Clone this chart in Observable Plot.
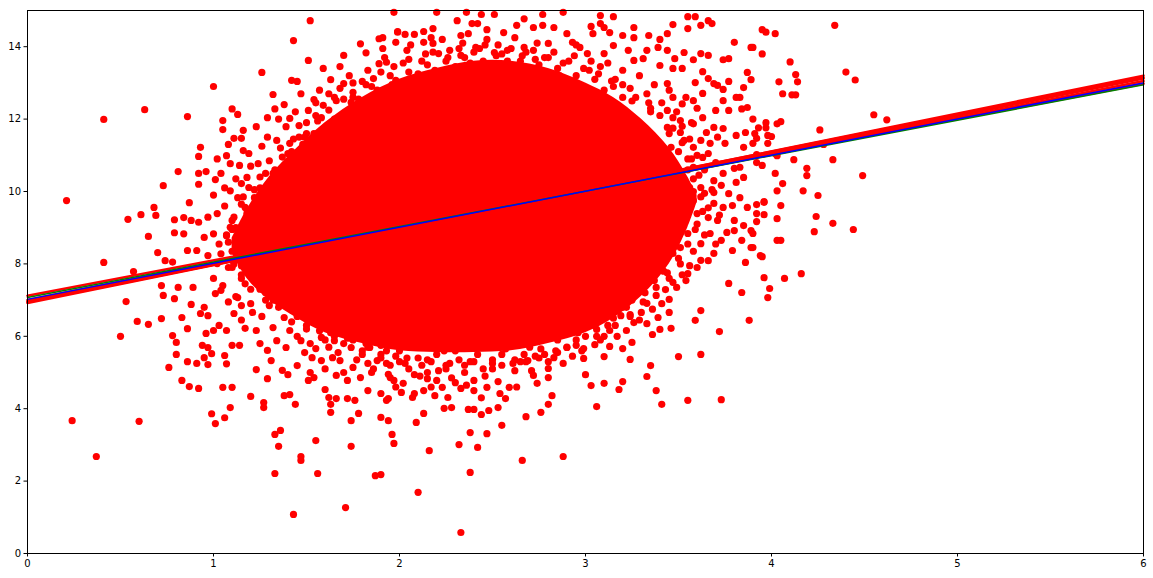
<!DOCTYPE html>
<html><head><meta charset="utf-8">
<script src="https://cdn.jsdelivr.net/npm/d3@7"></script>
<script src="https://cdn.jsdelivr.net/npm/@observablehq/plot@0.6"></script>
<style>body{margin:0;background:#fff}</style>
</head><body><div id="chart"></div>
<script>
const xTicks = [0,1,2,3,4,5,6];
const yTicks = [0,2,4,6,8,10,12,14];

// dense core of the cloud, read as lower/upper bounds of the solid red region
const coreX    = [1.10, 1.18, 1.30, 1.45, 1.60, 1.80, 2.00, 2.20, 2.40, 2.60, 2.80, 3.00, 3.15, 3.30, 3.45, 3.55, 3.60];
const coreLow  = [8.3,  7.6,  7.0,  6.5,  6.1,  5.8,  5.6,  5.55, 5.55, 5.6,  5.8,  6.1,  6.5,  7.1,  8.0,  9.0,  9.7];
const coreHigh = [8.7,  9.5,  10.4, 11.2, 11.9, 12.6, 13.1, 13.4, 13.6, 13.6, 13.4, 13.0, 12.6, 12.0, 11.2, 10.4, 9.9];

// individual points
const scatterPoints = [
[0.21,9.75],[0.41,11.99],[0.63,12.26],[0.41,8.04],[0.54,9.23],[0.61,9.36],[0.65,8.76],[0.68,9.56],[0.69,9.34],[0.73,10.16],
[0.70,8.31],[0.57,7.79],[0.86,12.07],[1.0,12.9],[0.81,10.55],[0.93,11.22],[0.92,10.97],[0.87,9.69],[0.79,8.86],[0.79,9.22],
[0.84,9.28],[0.84,8.83],[0.74,8.09],[0.78,8.05],[0.86,8.37],[0.91,8.37],[0.92,10.5],[0.92,10.2],[0.96,10.55],[0.88,9.2],
[0.92,9.15],[0.95,8.73],[0.97,8.23],[0.97,9.29],[1.01,10.33],[1.04,10.5],[1.05,11.96],[1.05,11.71],[1.1,12.28],[1.13,12.13],
[1.11,11.47],[1.16,11.69],[1.15,11.47],[1.16,11.13],[1.26,13.29],[1.32,12.68],[1.29,12.04],[1.23,11.79],[1.33,12.28],[1.38,12.4],
[1.42,13.07],[1.45,13.04],[1.43,14.17],[1.52,14.72],[1.51,13.62],[1.54,12.54],[1.59,13.4],[1.63,13.09],[1.68,13.45],[1.7,13.76],
[1.79,14.08],[1.82,13.83],[1.7,12.98],[1.75,12.74],[1.8,13.04],[1.97,14.95],[1.89,14.22],[1.91,13.95],[1.99,14.4],[1.89,13.53],
[1.93,13.57],[1.86,13.12],[1.98,13.07],[1.07,10.99],[1.09,10.77],[1.14,10.72],[1.15,10.22],[1.24,10.77],[1.29,11.5],[1.34,11.41],
[1.39,11.79],[1.41,12.02],[1.46,11.82],[1.41,11.33],[1.48,11.3],[1.49,11.5],[1.51,12.24],[1.58,12.04],[1.59,12.38],[1.54,11.6],
[1.6,11.22],[1.65,11.96],[1.66,12.51],[1.74,12.46],[1.4,11.05],[1.18,10.39],[1.19,10.11],[1.22,9.83],[1.13,9.83],[1.09,10.02],
[1.17,9.56],[1.11,9.29],[1.09,9.01],[1.02,9.39],[1.0,8.83],[1.07,8.78],[1.04,8.28],[1.11,8.0],[1.18,8.65],[1.24,8.92],
[1.27,9.47],[1.29,10.11],[1.32,10.5],[1.02,8.01],
[0.24,3.67],[0.37,2.68],[0.59,6.41],[0.5,6.0],[0.53,6.96],[0.6,3.65],[0.65,6.33],[0.72,6.49],[0.72,7.4],[0.73,7.13],
[0.76,5.14],[0.78,6.02],[0.8,5.83],[0.8,5.5],[0.79,7.04],[0.81,7.35],[0.83,6.52],[0.83,4.78],[0.86,5.3],[0.86,6.21],
[0.87,4.61],[0.88,6.88],[0.89,7.35],[0.91,5.25],[0.92,4.56],[0.93,6.63],[0.94,5.75],[0.95,5.41],[0.95,6.8],[0.96,6.08],
[0.97,5.69],[0.97,5.22],[0.97,6.57],[0.99,5.52],[0.99,3.86],[1.0,6.16],[1.01,7.18],[1.01,3.59],[1.03,6.3],[1.04,7.27],
[1.05,4.59],[1.06,5.47],[1.06,3.75],[1.07,5.24],[1.07,6.16],[1.09,4.03],[1.1,5.75],[1.1,4.59],[1.11,6.63],[1.13,7.07],
[1.14,5.75],[1.15,6.85],[1.17,6.22],[1.2,4.34],[1.21,6.66],[1.23,5.08],[1.23,6.16],[1.25,5.8],[1.27,4.17],[1.27,4.03],
[1.29,4.83],[1.29,5.61],[1.3,6.85],[1.31,5.33],[1.33,3.29],[1.33,2.21],[1.35,2.96],[1.36,3.4],[1.37,5.06],[1.38,4.36],
[1.4,4.94],[1.41,4.39],[1.43,1.08],[1.44,4.12],[1.47,2.68],[1.47,2.57],[1.51,4.78],[1.54,4.86],[1.55,3.12],[1.56,2.21],
[1.6,4.53],[1.62,4.31],[1.63,4.12],[1.63,3.9],[1.66,4.92],[1.66,4.28],[1.71,1.27],[1.72,4.78],[1.72,4.28],[1.74,3.67],
[1.74,2.96],[1.76,4.23],[1.78,3.87],[1.79,4.86],[1.83,4.5],[1.87,2.15],[1.9,2.18],[1.9,3.76],[1.94,3.67],[1.96,3.29],
[1.97,3.04],[1.9,4.42],[1.93,4.23],[1.97,4.78],[1.45,5.19],[1.49,5.55],[1.53,5.41],[1.55,5.66],[1.58,5.33],[1.64,5.41],
[1.68,5.33],[1.39,5.69],[1.34,5.88],[1.41,6.16],[1.32,6.24],[1.38,6.52],[1.47,5.88],[1.58,5.97],[1.65,5.88],[1.75,5.14],
[1.83,5.25],[1.88,5.33],[1.74,5.69],[1.84,5.69],[1.93,5.25],
[2.1,1.69],[2.33,0.58],[2.38,2.24],[2.16,2.84],[2.32,3.01],[2.42,2.93],[2.38,3.34],[2.47,3.31],[2.55,3.54],[2.66,2.57],
[2.88,2.68],[2.09,3.62],[2.13,3.87],[2.24,4.01],[2.28,4.03],[2.37,3.98],[2.4,3.98],[2.44,3.84],[2.48,3.95],[2.53,4.03],
[2.68,3.78],[2.76,3.9],[2.8,4.12],[2.82,4.36],[3.06,4.06],[3.03,4.64],[3.1,4.7],[3.18,4.53],[3.2,4.75],[3.33,4.89],
[3.38,4.5],[3.41,4.12],[3.55,4.23],[3.73,4.25],[3.35,5.19],[3.5,5.44],[3.62,5.5],[3.59,6.44],[3.62,6.71],[3.72,6.13],
[3.88,6.44],[3.77,7.46],[3.84,7.21],[3.98,7.07],[3.99,7.32],[3.46,6.22],[3.4,6.19],[3.36,6.05],[3.25,5.83],[3.2,5.66],
[3.24,5.36],[3.1,5.44],[3.13,5.72],[3.05,5.77],[2.99,5.39],[3.0,4.94],[2.99,5.66],[3.45,6.66],[3.39,6.52],[3.43,7.29],
[3.45,7.02],[3.54,7.54],[3.47,7.49],[3.33,6.35],[3.3,6.66],[3.26,6.38],[3.22,6.16],[3.13,6.16],[3.06,6.19],[3.1,6.63],
[3.04,6.8],[3.19,6.57],[3.22,7.13],[3.33,6.91],[3.38,7.13],[3.37,7.54],
[2.8,4.86],[2.72,4.92],[2.74,4.7],[2.69,5.33],[2.61,5.25],[2.59,4.59],[2.54,4.42],[2.57,4.28],[2.47,4.59],[2.4,4.78],
[2.33,4.56],[2.3,4.72],[2.26,4.31],[2.23,4.59],[2.19,4.36],[2.13,4.5],[2.08,4.42],[2.07,4.31],[1.94,4.28],[2.01,4.45],
[1.95,4.86],[2.02,4.7],[2.08,4.94],[2.15,4.83],[2.2,4.78],[2.4,4.5],[2.83,5.41],[2.9,5.69],[2.88,5.25],[2.8,5.11],
[4.34,14.59],[3.95,14.47],[3.97,14.4],[4.02,14.36],[3.95,13.8],[3.9,13.98],[4.1,13.58],[4.4,13.3],[4.45,13.08],[4.13,13.23],
[4.14,13.03],[4.04,13.03],[4.06,12.7],[4.11,12.67],[4.13,12.67],[4.55,12.12],[4.62,11.98],[4.26,11.7],[3.9,12.0],[3.93,11.76],
[3.97,11.9],[3.97,11.76],[4.03,11.87],[4.05,11.93],[3.92,11.47],[4.0,11.52],[3.98,11.33],[3.91,11.6],[3.92,11.02],[4.02,11.05],
[4.28,11.3],[3.95,10.72],[3.92,10.8],[4.12,10.88],[4.33,10.88],[4.19,10.64],[4.19,10.44],[4.49,10.44],[4.02,10.5],[4.06,10.22],
[4.03,10.02],[4.17,10.02],[4.25,9.89],[3.92,9.64],[3.96,9.72],[4.05,9.61],[3.96,9.36],[3.92,9.17],[4.03,9.25],[4.24,9.31],
[4.23,8.89],[4.33,9.12],[4.44,8.95],[3.9,8.84],[4.05,8.65],[3.9,8.45],[3.94,8.23],[3.95,8.2],[3.96,7.62],[4.07,7.6],[4.16,7.73],
[2.2,14.95],[2.36,14.95],[2.44,14.89],[2.51,14.89],[2.77,14.89],[2.88,14.95],[3.08,14.86],[3.15,14.83],[3.55,14.83],[3.59,14.83],
[2.31,14.72],[2.39,14.64],[2.42,14.64],[2.67,14.77],[2.77,14.59],[3.08,14.64],[3.03,14.56],[3.1,14.53],[3.26,14.53],[3.47,14.61],
[3.55,14.5],[3.62,14.59],[3.66,14.72],[3.68,14.64],[1.99,14.42],[2.03,14.34],[2.08,14.34],[2.13,14.42],[2.18,14.5],[2.17,14.25],
[2.33,14.31],[2.37,14.36],[2.47,14.47],[2.56,14.39],[2.63,14.59],[2.72,14.53],[2.83,14.53],[2.9,14.36],[2.93,14.12],[3.04,14.36],
[3.13,14.39],[3.2,14.31],[3.26,14.25],[3.34,14.31],[3.44,14.36],[3.4,14.2],[3.8,14.12],[3.89,13.98],[1.91,14.25],[1.98,14.12],
[2.04,13.9],[2.13,14.12],[2.18,14.09],[2.21,13.81],[2.33,13.76],[2.41,13.98],[2.51,13.84],[2.58,13.9],[2.67,13.98],[2.72,13.9],
[2.8,14.09],[2.97,13.98],[3.01,13.81],[3.1,13.81],[3.15,14.03],[3.23,13.9],[3.33,13.9],[3.39,13.98],[3.44,13.9],[3.53,13.84],
[3.62,13.81],[3.66,13.76],[3.58,13.64],[3.74,13.64],[3.77,13.67],[3.48,13.67],[3.4,13.48],[3.31,13.67],[3.26,13.62],[3.87,13.29],
[3.63,13.31],[3.66,13.12],[3.77,13.04],[3.89,13.09],[3.85,12.87],[3.71,12.93],[3.81,12.6],[3.83,12.6],[3.59,13.01],[3.52,13.4],
[3.47,13.4],[3.63,12.71],[3.74,12.82],[3.74,12.51],[3.7,12.24],[3.77,12.24],[3.84,12.28],[3.87,12.32],[3.86,11.63],[3.81,11.55],
[3.74,11.74],[3.71,11.5],[3.69,11.77],[3.65,11.63],[3.62,11.41],[3.75,11.33],[3.85,11.22],[3.9,11.33],[3.98,11.55],[4.03,10.99],
[4.03,8.65],[3.96,9.7],[3.92,9.39],[3.87,9.56],[3.83,9.83],[3.79,9.61],[3.77,9.94],[3.81,10.25],[3.85,10.39],[3.83,10.67],
[3.8,10.64],[3.74,10.5],[3.69,10.3],[3.73,10.17],[3.69,9.97],[3.74,9.56],[3.8,9.2],[3.85,9.06],[3.89,8.92],[3.8,8.92],
[3.76,8.87],[3.73,8.65],[3.79,8.37],[3.84,8.65],[3.86,8.04],[3.89,8.45],[3.69,8.29],[3.66,8.09],[3.62,8.56],[3.67,8.84],
[3.66,9.28],[3.6,9.39],[3.69,9.67],[3.58,9.75],[3.62,10.11],[3.56,10.11],[3.71,9.2],[3.55,7.73],[3.6,7.9],[3.51,8.0],
[3.47,8.29],[3.51,8.45],[3.55,8.84],[3.51,9.12],[3.47,9.29],[3.51,9.56],[3.46,9.83],[3.47,10.3],[3.51,10.5],[3.58,10.67],
[3.63,10.94],[3.66,11.05],[3.67,11.33],[3.58,11.22],[3.53,11.41],[3.51,11.63],[3.58,11.87],[3.63,12.04],[3.58,12.51],[3.52,12.42],
[3.47,12.6],[3.69,12.98],[3.44,12.98],[3.44,12.24],[3.47,12.04],[3.44,11.77],[3.51,11.96],[3.44,11.05],[3.44,10.67],[3.46,11.22],
[1.15,7.6],[1.2,8.1],[1.25,7.3],[1.3,7.8],[1.35,8.4],[1.28,8.7],[1.22,9.1],[1.18,8.4],[1.1,7.9],[1.05,7.4],
[1.12,7.1],[1.32,7.0],[1.38,7.5],[1.4,9.2],[1.35,9.6],[1.3,10.0],[1.42,10.3],[1.45,6.8],[1.5,6.3],[1.55,6.7],[1.48,7.3],
[1.85,5.9],[1.9,5.5],[1.95,5.2],[2.0,5.6],[2.05,5.1],[2.1,5.4],[2.15,5.0],[2.2,5.5],[2.25,5.2],[2.3,5.6],
[2.35,5.0],[2.4,5.3],[2.45,5.7],[2.5,5.1],[2.55,5.5],[2.6,5.8],[2.65,5.3],[2.7,5.7],[2.75,5.4],[2.85,5.9],
[2.9,6.2],[2.95,5.9],[3.05,6.3],[3.1,6.0],[3.15,6.5],[1.8,5.6],[1.75,5.9],[1.7,6.2],[1.65,6.0],
[3.3,7.5],[3.35,8.0],[3.4,8.5],[3.3,9.0],[3.4,9.5],[3.35,10.0],[3.3,10.8],[3.4,11.0],[3.3,11.5],[3.25,12.0],
[3.35,12.3],[3.2,12.6],[3.42,7.8],[3.38,9.2],[3.45,10.2],[3.28,8.3],[3.25,7.0],[3.2,6.8],[3.15,12.3],[3.1,12.8],
[1.5,11.9],[1.55,12.1],[1.65,12.0],[1.75,12.6],[1.85,12.9],[1.95,13.2],[2.05,13.3],[2.15,13.5],[2.25,13.6],[2.35,13.7],
[2.45,13.6],[2.55,13.8],[2.65,13.6],[2.75,13.5],[2.85,13.4],[2.95,13.2],[3.05,13.1],[3.15,12.9],[3.25,12.5],[3.35,12.2],
[3.45,11.6],[3.5,11.1],[3.55,10.6],[3.58,10.0],[3.55,9.4],[3.5,8.9],[3.45,8.5],[3.4,7.9],[3.32,7.2],[3.22,6.8],
[3.12,6.3],[3.0,6.0],[2.9,5.7],[2.78,5.5],[2.68,5.3],[2.55,5.2],[2.45,5.1],[2.35,5.2],[2.25,5.1],[2.12,5.2],
[2.0,5.3],[1.9,5.4],[1.8,5.5],[1.7,5.8],[1.6,5.9],[1.5,6.2],[1.42,6.4],[1.35,6.8],[1.28,7.0],[1.2,7.3],
[1.15,7.7],[1.1,8.1],[1.08,8.6],[1.12,9.0],[1.18,9.4],[1.25,10.1],[1.33,10.6],[1.42,11.1],
[1.62,12.7],[1.68,12.85],[1.73,13.2],[1.78,12.55],[1.83,13.35],[1.88,12.8],[1.92,13.7],[1.96,12.95],[2.02,13.55],[2.06,14.05],
[2.1,13.25],[2.14,13.8],[2.19,13.35],[2.23,14.2],[2.27,13.9],[2.3,13.45],[2.34,14.1],[2.38,13.55],[2.43,13.95],[2.47,14.2],
[2.5,13.5],[2.53,14.05],[2.58,13.6],[2.62,14.25],[2.66,13.75],[2.7,13.3],[2.74,14.1],[2.78,13.7],[2.83,13.85],[2.86,13.2],
[2.91,13.6],[2.95,14.05],[2.99,13.4],[3.03,13.6],[3.07,13.25],[3.12,13.55],[3.16,13.1],[3.2,13.35],[3.24,12.85],[3.29,13.2],
[3.33,12.7],[3.37,12.95],[3.41,12.45],[3.45,12.8],[3.49,12.2],[3.54,12.6],[3.57,11.9],[3.6,12.3],
[3.56,11.45],[3.6,11.0],[3.64,10.6],[3.58,10.35],[3.62,9.85],[3.66,9.55],[3.6,9.1],[3.64,8.8],[3.58,8.35],[3.62,8.1],
[3.56,7.95],[3.52,7.7],[3.68,10.05],[3.7,10.8],[3.72,9.35],[3.7,8.55],[3.53,9.7],[3.55,10.9],[3.52,11.8],[3.49,7.35],
[3.45,7.6],[3.41,6.9],[3.36,6.75],[3.29,6.45],[3.24,6.55],[3.17,6.0],[3.08,5.9],[2.98,5.6],
[1.45,6.0],[1.52,5.8],[1.57,6.15],[1.62,5.7],[1.67,5.55],[1.72,5.95],[1.77,5.35],[1.82,5.8],[1.86,5.1],[1.9,5.75],
[1.94,4.95],[1.98,5.45],[2.03,5.25],[2.06,5.75],[2.11,4.9],[2.17,5.3],[2.21,5.05],[2.24,5.6],[2.28,4.85],[2.32,5.35],
[2.36,4.65],[2.42,5.5],[2.46,4.9],[2.5,5.35],[2.53,4.75],[2.57,5.65],[2.62,5.05],[2.67,5.5],[2.71,5.05],[2.76,5.65],
[2.8,5.3],[2.85,5.55],[2.93,5.45],[2.96,6.1],[2.63,4.6],[2.44,4.3],[2.17,4.6],[1.98,4.6],[1.85,5.0],[1.7,5.0],[1.6,5.1],[1.52,5.0],
[1.0,7.6],[1.03,8.55],[1.06,9.6],[1.08,7.9],[1.1,8.95],[1.12,10.35],[1.14,8.25],[1.16,9.85],[1.17,7.45],[1.2,10.7],
[1.21,8.85],[1.23,7.75],[1.25,10.4],[1.27,9.05],[1.28,7.55],[1.3,10.85],[1.32,8.1],[1.33,9.3],[1.36,11.2],[1.37,7.2],
[1.39,6.95],[1.43,11.45],[1.45,11.0],[1.48,6.6],[1.5,11.6],[1.53,6.45],[1.56,11.95],[1.58,6.35],[1.62,12.25],[1.66,6.1],
[1.7,12.55],[1.72,6.05],[1.2,6.9],[1.26,6.55],[1.15,6.45],[1.08,6.95],[1.06,10.1],[1.0,9.9],[1.02,10.9],[1.08,11.3],
[1.19,11.05],[1.26,11.25],[1.35,12.0],[1.47,12.7],[1.57,12.8],[1.44,12.2],
[1.55,12.45],[1.65,12.6],[1.75,13.0],[1.82,12.95],[1.9,13.3],[1.97,13.45],[2.05,13.65],[2.12,13.6],[2.18,13.85],[2.26,13.7],
[2.32,13.95],[2.4,13.85],[2.46,14.05],[2.52,13.75],[2.6,13.95],[2.68,13.85],[2.73,13.65],[2.8,13.7],[2.88,13.55],[2.94,13.75],
[3.02,13.35],[3.08,13.45],[3.14,13.05],[3.2,12.95],[3.27,12.6],[3.34,12.45],[3.4,12.1],[3.47,11.75],[3.52,11.35],[3.57,10.9],
[3.61,10.45],[3.64,9.95],[3.63,9.45],[3.59,8.95],[3.55,8.55],[3.5,8.15],[3.44,7.75],[3.38,7.35],[3.31,6.95],[3.24,6.6],
[3.16,6.3],[3.06,6.0],[2.95,5.75],[2.84,5.6],[2.73,5.45],[2.62,5.35],[2.5,5.25],[2.38,5.3],[2.27,5.25],[2.15,5.35],
[2.04,5.4],[1.93,5.6],[1.83,5.7],[1.73,5.95],[1.63,6.1],[1.54,6.4],[1.45,6.55],[1.37,6.9],[1.28,7.2],[1.21,7.6],
[1.15,7.95],[1.1,8.35],[1.07,8.8],[1.1,9.2],[1.15,9.65],[1.22,10.05],[1.28,10.5],[1.37,10.95],[1.46,11.5]
];

// fitted lines: value at x = 0 and at x = 6
const lineX = [0, 6];
const redStarts   = [7.12, 6.92, 6.95, 7.00, 6.97];
const redEnds     = [12.98, 13.20, 13.12, 13.15, 13.05];
const greenLine   = [7.07, 12.95];
const blueLine    = [7.02, 13.00];

const pts = scatterPoints.map(([x, y]) => ({x, y}));
const core = coreX.map((x, i) => ({x, lo: coreLow[i], hi: coreHigh[i]}));
const redLines = redStarts.flatMap((s, i) => [{x: lineX[0], y: s, k: i}, {x: lineX[1], y: redEnds[i], k: i}]);
const green = lineX.map((x, i) => ({x, y: greenLine[i]}));
const blue = lineX.map((x, i) => ({x, y: blueLine[i]}));

const chart = Plot.plot({
  width: 1153, height: 578,
  marginLeft: 27, marginRight: 10, marginTop: 10, marginBottom: 25,
  style: {fontFamily: "DejaVu Sans", fontSize: "10px", color: "black", background: "white"},
  x: {domain: [0, 6]},
  y: {domain: [0, 15]},
  marks: [
    Plot.areaY(core, {x: "x", y1: "lo", y2: "hi", fill: "#ff0000", curve: "catmull-rom"}),
    Plot.dot(pts, {x: "x", y: "y", r: 3.6, fill: "#ff0000", stroke: "none"}),
    Plot.line(redLines, {x: "x", y: "y", z: "k", stroke: "#ff0000", strokeWidth: 2.6}),
    Plot.line(green, {x: "x", y: "y", stroke: "#008000", strokeWidth: 1.5}),
    Plot.line(blue, {x: "x", y: "y", stroke: "#0000ff", strokeWidth: 1.5}),
    Plot.frame({stroke: "black", strokeWidth: 1}),
    Plot.axisX({ticks: xTicks, tickFormat: d => String(d), tickSize: 3.5, tickPadding: 3, fontSize: 10, label: null}),
    Plot.axisY({ticks: yTicks, tickFormat: d => String(d), tickSize: 3.5, tickPadding: 3, fontSize: 10, label: null})
  ]
});
document.getElementById("chart").appendChild(chart);
</script>
</body></html>
